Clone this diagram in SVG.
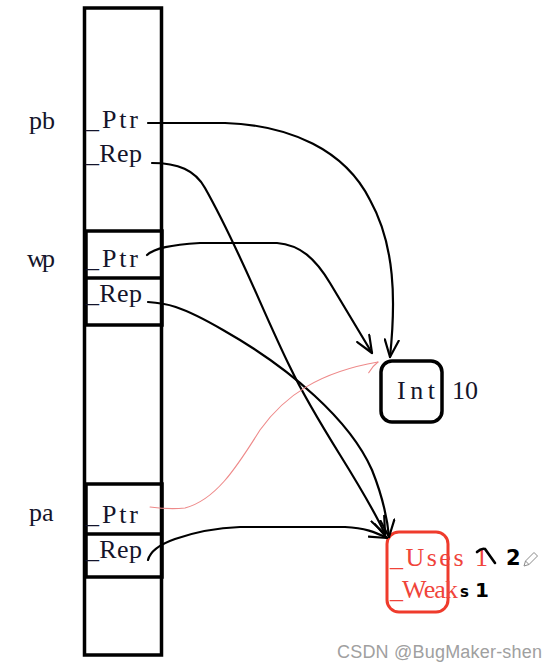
<svg xmlns="http://www.w3.org/2000/svg" width="551" height="672" viewBox="0 0 551 672">
<style>
.box{fill:none;stroke:#000;stroke-width:3.5}
.fld{font-family:"Liberation Serif","Times New Roman",serif;font-size:26px;fill:#14142a}
.red{fill:#f0443a}
.conn{fill:none;stroke:#000;stroke-width:2.2;stroke-linecap:round;stroke-linejoin:round}
.thin{fill:none;stroke:#ee8a8a;stroke-width:1.1;stroke-linecap:round}
.hand{font-family:"DejaVu Sans",sans-serif;font-weight:bold;fill:#000}
</style>
<defs>
<marker id="arr" viewBox="0 0 20 16" markerWidth="20" markerHeight="16" refX="18" refY="8" orient="auto" markerUnits="userSpaceOnUse">
<path d="M1,1 L18,8 L1,15" fill="none" stroke="#000" stroke-width="2.2" stroke-linecap="round" stroke-linejoin="round"/>
</marker>
<marker id="arrRed" viewBox="0 0 16 14" markerWidth="16" markerHeight="14" refX="15" refY="4" orient="auto" markerUnits="userSpaceOnUse">
<path d="M4,13 Q9,7 15,4" fill="none" stroke="#ee8a8a" stroke-width="1.1" stroke-linecap="round"/>
</marker>
</defs>
<rect width="551" height="672" fill="#fff"/>

<g id="column">
<rect class="box" x="84.5" y="8" width="77" height="647"/>
</g>

<g id="node-pb">
<text class="fld" x="29" y="129">pb</text>
<text class="fld" x="86" y="128" textLength="52">_Ptr</text>
<text class="fld" x="86" y="162" textLength="56">_Rep</text>
</g>

<g id="node-wp">
<rect class="box" x="86" y="231" width="76" height="94"/>
<line x1="86" y1="278" x2="162" y2="278" stroke="#000" stroke-width="3.5"/>
<text class="fld" x="27" y="267" textLength="28">wp</text>
<text class="fld" x="86" y="267" textLength="52">_Ptr</text>
<text class="fld" x="86" y="302" textLength="56">_Rep</text>
</g>

<g id="node-pa">
<rect class="box" x="86" y="484" width="76" height="93"/>
<line x1="86" y1="534" x2="162" y2="534" stroke="#000" stroke-width="3.5"/>
<text class="fld" x="29" y="521">pa</text>
<text class="fld" x="86" y="523" textLength="52">_Ptr</text>
<text class="fld" x="86" y="558" textLength="56">_Rep</text>
</g>

<g id="node-int">
<rect class="box" x="381" y="361" width="61" height="61" rx="11"/>
<text class="fld" x="397" y="399" textLength="38">Int</text>
<text class="fld" x="452" y="399" textLength="26">10</text>
</g>

<g id="node-refcount">
<rect x="387" y="532" width="61" height="80" rx="12" fill="none" stroke="#ef3b2c" stroke-width="3"/>
<text class="fld red" x="390" y="566" textLength="98">_Uses 1</text>
<text class="fld red" x="390" y="598" textLength="68">_Weak</text>
</g>

<g id="connectors">
<path class="conn" marker-end="url(#arr)" d="M148,123 L225,123 C290,125 345,150 370,200 C395,245 396,300 390,357"/>
<path class="conn" marker-end="url(#arr)" d="M152,163 C178,163 195,170 205,188 C240,250 262,310 290,367 C320,430 360,480 385,534"/>
<path class="conn" marker-end="url(#arr)" d="M147,255 C155,248 170,245 200,243 L277,243 C300,245 315,258 330,283 L372,353"/>
<path class="conn" marker-end="url(#arr)" d="M148,302 C165,303 180,305 223,330 C290,368 350,420 372,470 C382,495 387,515 389,537"/>
<path class="conn" marker-end="url(#arr)" d="M148,560 C150,552 158,545 175,539 C195,532 215,528 240,527 L345,527 C365,528 375,532 387,538"/>
<path class="thin" marker-end="url(#arrRed)" d="M150,507 C165,509 175,509 185,508 C215,500 235,470 260,430 C285,395 320,372 378,362"/>
</g>

<g id="annotations">
<path d="M477,552 Q481,548 485,549 L495,563" fill="none" stroke="#000" stroke-width="2.6" stroke-linecap="round"/>
<text class="hand" x="506" y="565" font-size="21" textLength="21">2</text>
<path d="M524,566 L525.5,561 L534,552.5 L537.5,556 L529,564.5 Z M525.5,561 L529,564.5" fill="none" stroke="#8a8a8a" stroke-width="1"/>
<text class="hand" x="460" y="597" font-size="15">s</text>
<text class="hand" x="475" y="597" font-size="20" textLength="22">1</text>
</g>

<g id="watermark">
<text x="337" y="658" font-family="'Liberation Sans',Arial,sans-serif" font-size="18" fill="#a0a0a0" textLength="205">CSDN @BugMaker-shen</text>
</g>
</svg>
